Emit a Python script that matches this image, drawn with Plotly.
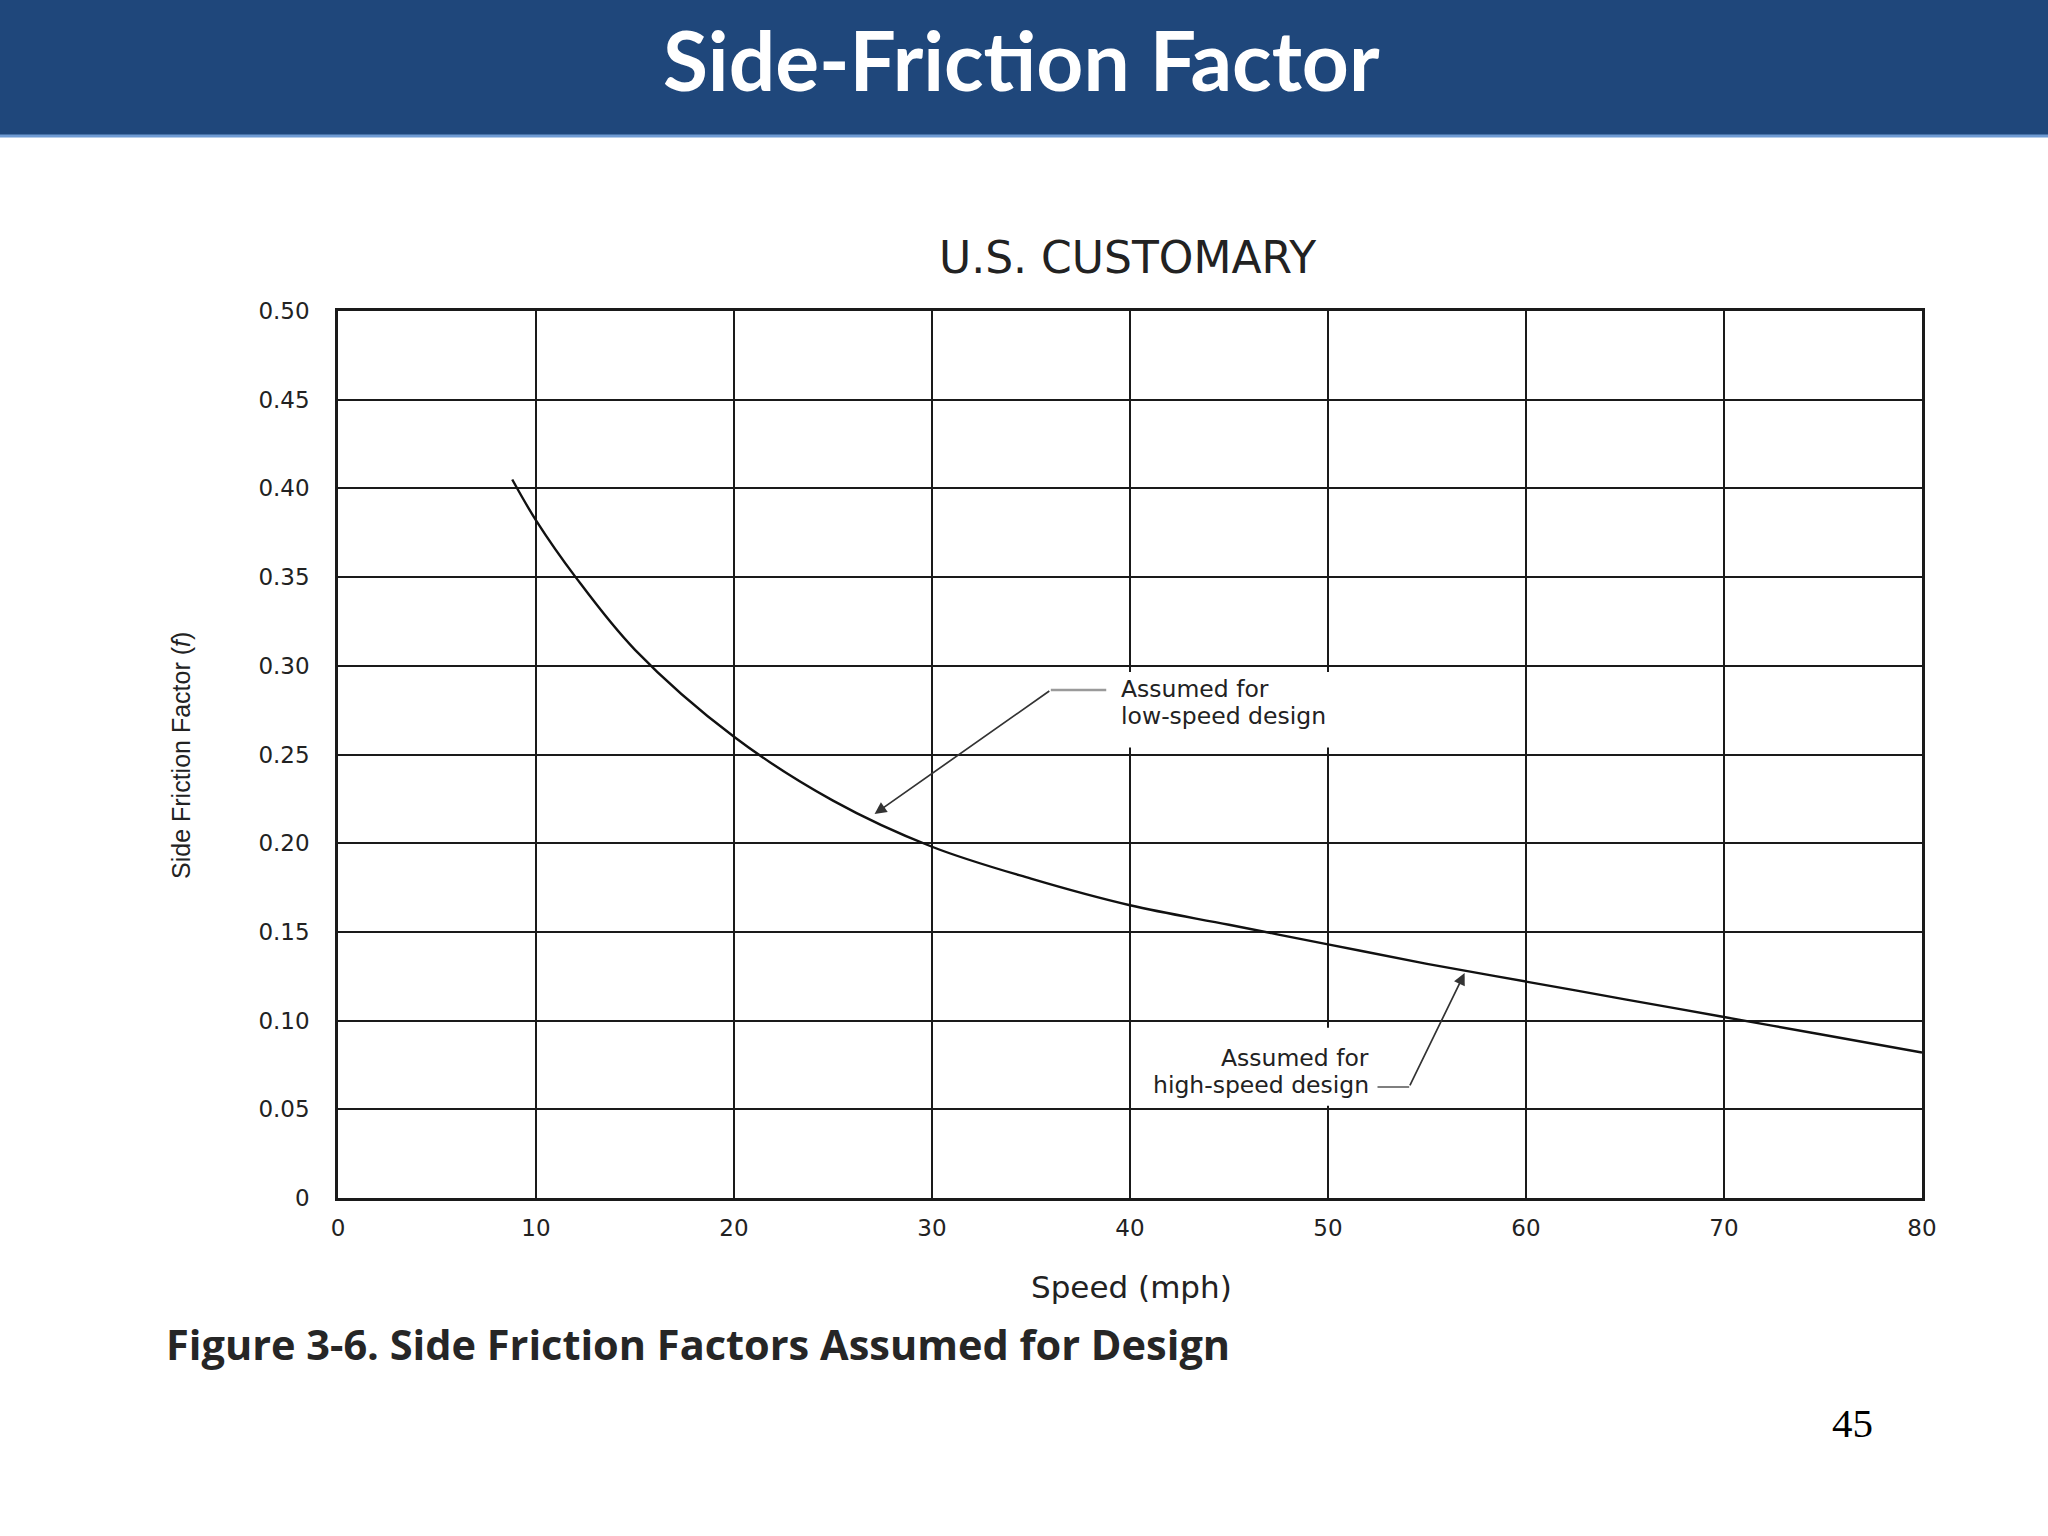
import plotly.graph_objects as go

# ---- data ----
speed_mph = [8.8, 10, 12, 15, 20, 25, 30, 35, 40, 45, 50, 55, 60, 65, 70, 75, 80]
side_friction = [0.405, 0.382, 0.350, 0.309, 0.260, 0.224, 0.198, 0.180, 0.165, 0.154,
                 0.143, 0.132, 0.122, 0.112, 0.102, 0.092, 0.082]

x_ticks = [0, 10, 20, 30, 40, 50, 60, 70, 80]
x_tick_labels = ["0", "10", "20", "30", "40", "50", "60", "70", "80"]
y_ticks = [0, 0.05, 0.10, 0.15, 0.20, 0.25, 0.30, 0.35, 0.40, 0.45, 0.50]
y_tick_labels = ["0", "0.05", "0.10", "0.15", "0.20", "0.25", "0.30", "0.35", "0.40", "0.45", "0.50"]

# callouts (data coords): arrow tip on curve, arrow tail, end of leader
low_tip = (27.1, 0.2165)
low_tail = (36.0, 0.2864)
low_leader_end = 38.8
high_tip = (56.9, 0.1268)
high_tail = (54.1, 0.0626)
high_leader_end = 52.5

W, H = 2048, 1536
L, R, T, B = 338, 1922, 311, 1198


def px_x(p):
    return (p - L) / (R - L)


def px_y(p):
    return (B - p) / (B - T)


GRID = "#1a1a1a"
TXT = "#222222"
SANS = "DejaVu Sans"

fig = go.Figure()
fig.add_trace(go.Scatter(
    x=speed_mph, y=side_friction, mode="lines",
    line=dict(color="#111111", width=2.4, shape="spline", smoothing=1.0),
    hoverinfo="skip", showlegend=False,
))

shapes = [
    # banner
    dict(type="rect", xref="paper", yref="paper",
         x0=px_x(0), x1=px_x(W), y0=px_y(0), y1=px_y(135),
         fillcolor="#1F477B", line=dict(width=0), layer="above"),
    dict(type="line", xref="paper", yref="paper",
         x0=px_x(0), x1=px_x(W), y0=px_y(136), y1=px_y(136),
         line=dict(color="#6F9BD3", width=3), layer="above"),
    # white gaps in the grid behind the callout texts
    dict(type="rect", xref="x", yref="y", x0=39, x1=51, y0=0.254, y1=0.2965,
         fillcolor="white", line=dict(width=0), layer="between"),
    dict(type="rect", xref="x", yref="y", x0=45, x1=52, y0=0.052, y1=0.096,
         fillcolor="white", line=dict(width=0), layer="between"),
    # leader segments
    dict(type="line", xref="x", yref="y", x0=low_tail[0], x1=low_leader_end,
         y0=low_tail[1], y1=low_tail[1], line=dict(color="#9a9a9a", width=2.5), layer="above"),
    dict(type="line", xref="x", yref="y", x0=high_leader_end, x1=high_tail[0],
         y0=high_tail[1], y1=high_tail[1], line=dict(color="#555555", width=1.5), layer="above"),
]

annotations = [
    dict(text="<b>Side-Friction Factor</b>", x=px_x(1021), y=px_y(59),
         font=dict(family="Lato", size=82, color="white")),
    dict(text="U.S. CUSTOMARY", x=px_x(1127), y=px_y(257),
         font=dict(family=SANS, size=44, color=TXT)),
    dict(text="Speed (mph)", x=px_x(1131), y=px_y(1287),
         font=dict(family=SANS, size=31, color=TXT)),
    dict(text="Side Friction Factor (<i>f</i>)", x=px_x(181), y=px_y(756), textangle=-90,
         font=dict(family="Liberation Sans", size=25, color=TXT)),
    dict(text="<b>Figure 3-6. Side Friction Factors Assumed for Design</b>",
         x=px_x(164), y=px_y(1344), xanchor="left",
         font=dict(family="Open Sans", size=41.5, color="#262626")),
    dict(text="45", x=px_x(1852), y=px_y(1423),
         font=dict(family="Liberation Serif", size=41, color="black")),
    dict(text="Assumed for", x=px_x(1119), y=px_y(689), xanchor="left",
         font=dict(family=SANS, size=23.5, color=TXT)),
    dict(text="low-speed design", x=px_x(1119), y=px_y(716), xanchor="left",
         font=dict(family=SANS, size=23.5, color=TXT)),
    dict(text="Assumed for", x=px_x(1371), y=px_y(1058), xanchor="right",
         font=dict(family=SANS, size=23.5, color=TXT)),
    dict(text="high-speed design", x=px_x(1371), y=px_y(1085), xanchor="right",
         font=dict(family=SANS, size=23.5, color=TXT)),
]
for a in annotations:
    a.setdefault("xref", "paper")
    a.setdefault("yref", "paper")
    a.setdefault("showarrow", False)
    a.setdefault("xanchor", "center")
    a.setdefault("yanchor", "middle")

# arrows
for tip, tail in [(low_tip, low_tail), (high_tip, high_tail)]:
    annotations.append(dict(
        xref="x", yref="y", axref="x", ayref="y",
        x=tip[0], y=tip[1], ax=tail[0], ay=tail[1], text="",
        showarrow=True, arrowhead=2, arrowsize=1.4, arrowwidth=1.7, arrowcolor="#333333",
    ))

axis_common = dict(
    showgrid=True, gridcolor=GRID, gridwidth=2,
    showline=True, linecolor=GRID, linewidth=2.5, mirror=True,
    zeroline=False, ticks="", fixedrange=True,
    tickfont=dict(family=SANS, size=23, color=TXT),
)

fig.update_layout(
    width=W, height=H,
    margin=dict(l=L, r=W - R, t=T, b=H - B, pad=0),
    paper_bgcolor="white", plot_bgcolor="white",
    xaxis=dict(range=[0, 80], tickmode="array", tickvals=x_ticks, ticktext=x_tick_labels,
               ticklabelstandoff=8, **axis_common),
    yaxis=dict(range=[0, 0.5], tickmode="array", tickvals=y_ticks, ticktext=y_tick_labels,
               ticklabelstandoff=21, **axis_common),
    shapes=shapes, annotations=annotations, showlegend=False,
)

fig.write_html("out.html", config={"displayModeBar": False})
